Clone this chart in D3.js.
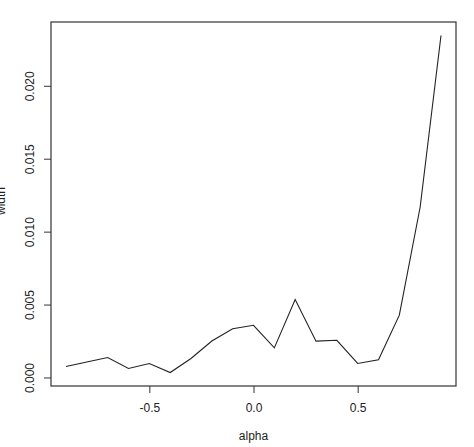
<!DOCTYPE html>
<html>
<head>
<meta charset="utf-8">
<script src="https://cdn.jsdelivr.net/npm/d3@7"></script>
<style>
  body { margin: 0; background: #fff; }
  text { font-family: "Liberation Sans", Arial, sans-serif; font-size: 12px; fill: #222; }
</style>
</head>
<body>
<div id="chart"></div>
<script>
// data
var alpha = [-0.9, -0.8, -0.7, -0.6, -0.5, -0.4, -0.3, -0.2, -0.1, 0.0,
             0.1, 0.2, 0.3, 0.4, 0.5, 0.6, 0.7, 0.8, 0.9];
var width_vals = [0.00075, 0.00106, 0.00137, 0.00062, 0.00096, 0.00034, 0.0013, 0.0025, 0.00334, 0.00358,
                  0.00203, 0.00534, 0.00249, 0.00255, 0.00096, 0.00121, 0.00427, 0.01169, 0.02345];
var xTicks = [-0.5, 0.0, 0.5];
var yTicks = [0.000, 0.005, 0.010, 0.015, 0.020];

var W = 474, H = 447;
var margin = {left: 51, right: 18, top: 22, bottom: 61};
var width = W - margin.left - margin.right,
    height = H - margin.top - margin.bottom;

var data = alpha.map(function(a, i){ return {a: a, w: width_vals[i]}; });

// R style 4% padding on the ranges
var xe = d3.extent(alpha), ye = d3.extent(width_vals);
var xp = (xe[1] - xe[0]) * 0.04, yp = (ye[1] - ye[0]) * 0.04;
var x = d3.scaleLinear().domain([xe[0] - xp, xe[1] + xp]).range([0, width]);
var y = d3.scaleLinear().domain([ye[0] - yp, ye[1] + yp]).range([height, 0]);

// R prints a plain hyphen for negatives
var fmt1 = function(d){ return d3.format(".1f")(d).replace("\u2212", "-"); };

var svg = d3.select("#chart").append("svg")
    .attr("width", W)
    .attr("height", H);

var g = svg.append("g")
    .attr("transform", "translate(" + margin.left + "," + margin.top + ")");

var line = d3.line()
    .x(function(d){ return x(d.a); })
    .y(function(d){ return y(d.w); });

g.append("path")
    .datum(data)
    .attr("fill", "none")
    .attr("stroke", "#222")
    .attr("stroke-width", 1.1)
    .attr("d", line);

// box
g.append("rect")
    .attr("width", width)
    .attr("height", height)
    .attr("fill", "none")
    .attr("stroke", "#333")
    .attr("stroke-width", 1.2);

// x axis
var xAxis = g.append("g")
    .attr("transform", "translate(0," + height + ")")
    .call(d3.axisBottom(x).tickValues(xTicks).tickFormat(fmt1).tickSize(7).tickPadding(10));
xAxis.select(".domain").remove();
xAxis.selectAll("line").attr("stroke", "#333");
xAxis.selectAll("text").style("font-size", "12px").attr("fill", "#222")
    .attr("font-family", "Liberation Sans, Arial, sans-serif");

// y axis, rotated labels like R
var yAxis = g.append("g")
    .call(d3.axisLeft(y).tickValues(yTicks).tickFormat(d3.format(".3f")).tickSize(7));
yAxis.select(".domain").remove();
yAxis.selectAll("line").attr("stroke", "#333");
yAxis.selectAll("text")
    .attr("x", null).attr("dy", null)
    .attr("transform", "translate(-17,0) rotate(-90)")
    .attr("text-anchor", "middle")
    .attr("fill", "#222")
    .attr("font-family", "Liberation Sans, Arial, sans-serif")
    .style("font-size", "12px");

// axis titles
svg.append("text")
    .attr("x", margin.left + width / 2)
    .attr("y", 440)
    .attr("text-anchor", "middle")
    .text("alpha");

svg.append("text")
    .attr("transform", "translate(5," + (margin.top + height / 2 - 3) + ") rotate(-90)")
    .attr("text-anchor", "middle")
    .text("width");
</script>
</body>
</html>
